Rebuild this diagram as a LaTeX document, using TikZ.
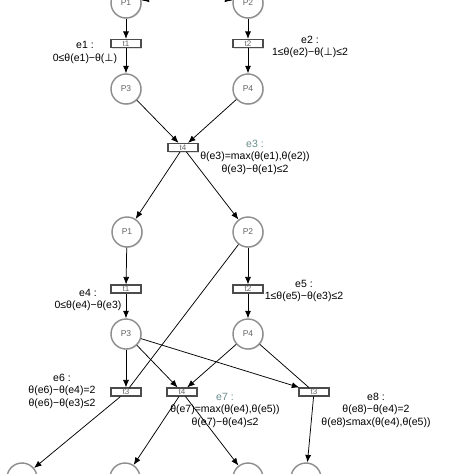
\documentclass[tikz,border=0pt]{standalone}
\usepackage{fontspec}
\setmainfont{Liberation Sans}
\newfontfamily\symfont{DejaVu Sans}
\usetikzlibrary{arrows.meta,shadows}

\definecolor{placegray}{RGB}{140,140,140}
\definecolor{labgray}{RGB}{100,100,100}
\definecolor{evteal}{RGB}{105,140,140}
\newcommand{\bott}{{\symfont ⊥}}

\tikzset{
  place/.style={circle, draw=placegray, line width=1.4pt, fill=white, minimum size=30pt, inner sep=0pt,
    font=\fontsize{8.5}{9}\selectfont, text=labgray, drop shadow={opacity=0.2, shadow xshift=1pt, shadow yshift=-1pt}},
  trans/.style={rectangle, draw=black!70, line width=1.1pt, fill=white, minimum width=30pt, minimum height=8pt, inner sep=0pt,
    font=\fontsize{8}{8}\selectfont, text=labgray, drop shadow={opacity=0.25, shadow xshift=1.2pt, shadow yshift=-1.2pt}},
  arc/.style={->, line width=0.75pt},
  readarc/.style={line width=0.75pt},
  cond/.style={align=center, font=\fontsize{10.5}{12.5}\selectfont, inner sep=0pt},
}

\begin{document}
\begin{tikzpicture}[x=1pt, y=-1pt, >={Latex[length=7.5pt,width=6pt]}]
    \useasboundingbox (0,0) rectangle (474,474);

    % first step
    \node[place] (P1a) at (126,3) {P1};
    \node[place] (P2a) at (248,3) {P2};
    \coordinate (in1) at (162,-3);
    \coordinate (in2) at (212,-3);
    \node[trans] (t1a) at (126,43.5) {t1};
    \node[trans] (t2a) at (248,43.5) {t2};
    \node[place] (P3a) at (126,89) {P3};
    \node[place] (P4a) at (248,89) {P4};
    \node[trans] (t4a) at (183,147.5) {t4};
    \node[cond] (e1) at (85,52.5) {e1 :\\0≤θ(e1)−θ(\bott)};
    \node[cond] (e2) at (310,47) {e2 :\\1≤θ(e2)−θ(\bott)≤2};
    \node[cond] (e3) at (255,157) {\textcolor{evteal}{e3 :}\\θ(e3)=max(θ(e1),θ(e2))\\θ(e3)−θ(e1)≤2};
    \draw[arc] (in1) -- (P1a);
    \draw[arc] (in2) -- (P2a);
    \draw[arc] (P1a) -- (t1a);
    \draw[arc] (P2a) -- (t2a);
    \draw[arc] (t1a) -- (P3a);
    \draw[arc] (t2a) -- (P4a);
    \draw[arc] (P3a) -- (t4a);
    \draw[arc] (P4a) -- (t4a);

    % second step
    \node[place] (P1b) at (127,232) {P1};
    \node[place] (P2b) at (248,232) {P2};
    \node[trans] (t1b) at (126,289) {t1};
    \node[trans] (t2b) at (248,289) {t2};
    \node[place] (P3b) at (126,334) {P3};
    \node[place] (P4b) at (248,334) {P4};
    \node[cond] (e4) at (88,300) {e4 :\\0≤θ(e4)−θ(e3)};
    \node[cond] (e5) at (304,291) {e5 :\\1≤θ(e5)−θ(e3)≤2};
    \draw[arc] (t4a) -- (P1b);
    \draw[arc] (t4a) -- (P2b);
    \draw[arc] (P1b) -- (t1b);
    \draw[arc] (P2b) -- (t2b);
    \draw[arc] (t1b) -- (P3b);
    \draw[arc] (t2b) -- (P4b);

    % third step
    \node[trans] (t3a) at (126,392) {t3};
    \node[trans] (t4b) at (182,392) {t4};
    \node[trans] (t3b) at (314,392) {t3};
    \node[place] (P5a) at (22,478) {P5};
    \node[place] (P1c) at (125,478) {P1};
    \node[place] (P2c) at (248,478) {P2};
    \node[place] (P5b) at (306,478) {P5};
    \node[cond] (e6) at (62,391) {e6 :\\θ(e6)−θ(e4)=2\\θ(e6)−θ(e3)≤2};
    \node[cond] (e7) at (225,410) {\textcolor{evteal}{e7 :}\\θ(e7)=max(θ(e4),θ(e5))\\θ(e7)−θ(e4)≤2};
    \node[cond] (e8) at (376,410) {e8 :\\θ(e8)−θ(e4)=2\\θ(e8)≤max(θ(e4),θ(e5))};
    \draw[readarc] (P2b) -- (t3a);
    \draw[readarc] (P4b) -- (t3b);
    \draw[arc] (P3b) -- (t3a);
    \draw[arc] (P3b) -- (t4b);
    \draw[arc] (P3b) -- (t3b);
    \draw[arc] (P4b) -- (t4b);
    \draw[arc] (t3a) -- (P5a);
    \draw[arc] (t4b) -- (P1c);
    \draw[arc] (t4b) -- (P2c);
    \draw[arc] (t3b) -- (P5b);
\end{tikzpicture}
\end{document}
